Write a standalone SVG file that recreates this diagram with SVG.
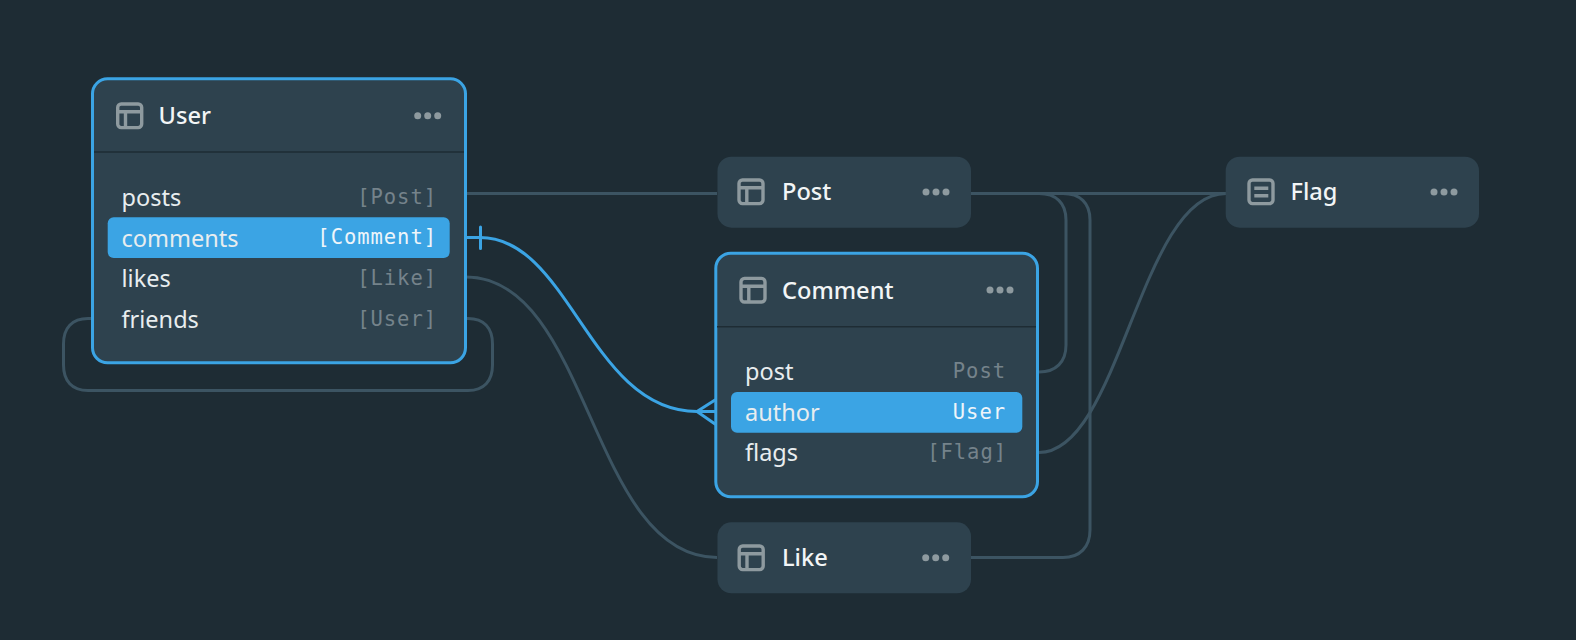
<svg xmlns="http://www.w3.org/2000/svg" width="1576" height="640" viewBox="0 0 1576 640">
<style>
.n{fill:#2e424e}
.s{fill:#2e424e;stroke:#3ba4e4;stroke-width:3}
.div{stroke:#1e2c34;stroke-width:1.5}
.hl{fill:#3ba4e4}
.t{font-family:"Noto Sans","Open Sans",sans-serif;font-size:23.6px;font-weight:500;fill:#f2f5f6}
.f{font-family:"Noto Sans","Open Sans",sans-serif;font-size:23.5px;fill:#e8edef}
.y{font-family:"DejaVu Sans Mono","Liberation Mono",monospace;font-size:20.5px;letter-spacing:.95px;fill:#75838b;text-anchor:end}
.ya{fill:#eef5fa}
.c{fill:none;stroke:#3c5462;stroke-width:3}
.b{fill:none;stroke:#3ba4e4;stroke-width:3;stroke-linecap:round}
.i{fill:none;stroke:#8e9a9f;stroke-width:3.4}
.d{fill:#8e9a9f}
</style>
<defs>
<g id="tbl"><rect class="i" x="1.700" y="1.700" width="24" height="23.600" rx="3.500"/><path class="i" d="M1.700 9.500H25.700M9.500 9.500V25.300"/></g>
<g id="enm"><rect class="i" x="1.700" y="1.700" width="24" height="23.600" rx="3.500"/><path class="i" d="M7 10H21M7 17.500H21"/></g>
<g id="dots"><circle class="d" cx="0" cy="0" r="3.500"/><circle class="d" cx="10" cy="0" r="3.500"/><circle class="d" cx="20" cy="0" r="3.500"/></g>
</defs>
<rect width="1576" height="640" fill="#1e2c34"/>
<g id="connectors">
<path class="c" d="M466 193.500H717"/>
<path class="c" d="M971 193.500H1226"/>
<path class="c" d="M1039 372C1056 372 1066 362 1066 345V220C1066 203 1056 193.500 1039 193.500"/>
<path class="c" d="M971 557.500H1063C1080 557.500 1090 547 1090 530V220C1090 203 1080 193.500 1063 193.500H1040"/>
<path class="c" d="M1039 452.500C1120 452.500 1140 193.500 1226 193.500"/>
<path class="c" d="M466 277C590 277 590 557.500 717 557.500"/>
<path class="c" d="M91 318.500H88C72 318.500 63.500 328 63.500 344V365C63.500 381 72 390.500 88 390.500H468C484 390.500 492.500 381 492.500 365V344C492.500 328 484 318.500 468 318.500H466"/>
<path class="b" d="M466 237.500H480C570 237.500 590 411.500 697 411.500"/>
<path class="b" d="M480.500 227V248.500M697 411.500L715 400M697 411.500H715M697 411.500L715 424"/>
</g>
<g id="node-user">
<rect class="s" x="92.500" y="78.800" width="373" height="284" rx="15"/>
<path class="div" d="M94 152H464"/>
<use href="#tbl" x="116" y="102.300"/>
<text class="t" x="158.500" y="124">User</text>
<use href="#dots" x="417.700" y="115.700"/>
<rect class="hl" x="107.700" y="217.300" width="342" height="40.700" rx="6"/>
<text class="f" x="121.500" y="205.500">posts</text><text class="y" x="437" y="203.500">[Post]</text>
<text class="f" x="121.500" y="246.500">comments</text><text class="y ya" x="437" y="244">[Comment]</text>
<text class="f" x="121.500" y="287">likes</text><text class="y" x="437" y="285">[Like]</text>
<text class="f" x="121.500" y="327.500">friends</text><text class="y" x="437" y="325.500">[User]</text>
</g>
<g id="node-post">
<rect class="n" x="717.500" y="156.700" width="253.500" height="71" rx="14"/>
<use href="#tbl" x="737.300" y="178.300"/>
<text class="t" x="782" y="200">Post</text>
<use href="#dots" x="926" y="192"/>
</g>
<g id="node-comment">
<rect class="s" x="715.800" y="253.200" width="321.700" height="243.600" rx="15"/>
<path class="div" d="M717 326.700H1036"/>
<use href="#tbl" x="739.300" y="276.700"/>
<text class="t" x="782" y="298.700">Comment</text>
<use href="#dots" x="990" y="290"/>
<rect class="hl" x="731" y="392" width="291.300" height="40.700" rx="6"/>
<text class="f" x="745" y="380">post</text><text class="y" x="1006" y="378">Post</text>
<text class="f" x="745" y="420.500">author</text><text class="y ya" x="1006" y="418.500">User</text>
<text class="f" x="745" y="461">flags</text><text class="y" x="1007" y="459">[Flag]</text>
</g>
<g id="node-like">
<rect class="n" x="717.500" y="522.300" width="253.500" height="71" rx="14"/>
<use href="#tbl" x="737.500" y="544.300"/>
<text class="t" x="782" y="566">Like</text>
<use href="#dots" x="925.700" y="557.700"/>
</g>
<g id="node-flag">
<rect class="n" x="1225.700" y="156.700" width="253.300" height="71" rx="14"/>
<use href="#enm" x="1247.300" y="178.300"/>
<text class="t" x="1290.500" y="200">Flag</text>
<use href="#dots" x="1434" y="192"/>
</g>
</svg>
